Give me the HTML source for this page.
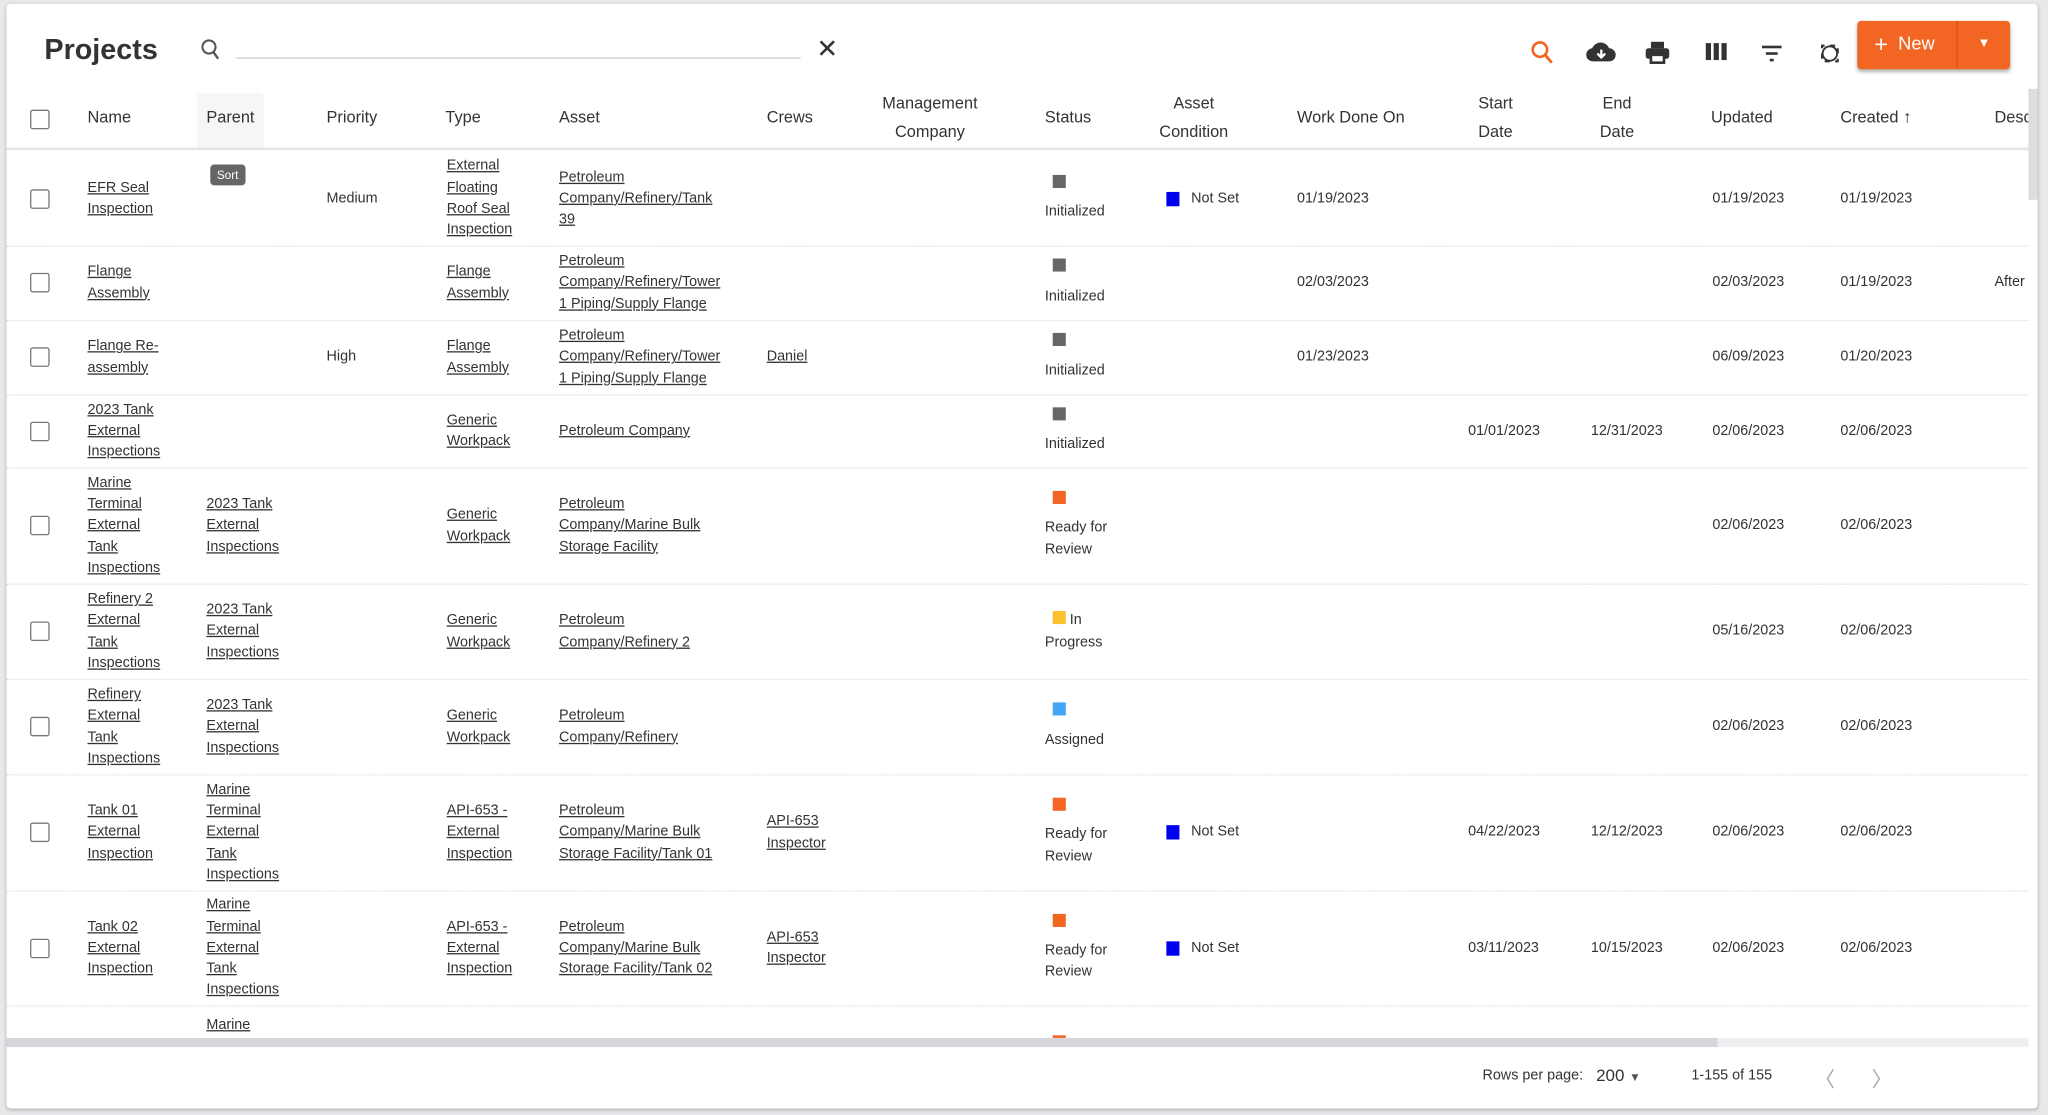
<!DOCTYPE html>
<html><head><meta charset="utf-8"><style>
html,body{margin:0;padding:0;background:#e8e8eb;width:2048px;height:1115px;overflow:hidden}
#w{position:absolute;left:0;top:0;width:1568px;height:854px;transform:scale(1.30612,1.3056);transform-origin:0 0;font-family:"Liberation Sans",sans-serif;color:#333;font-size:11px}
.card{position:absolute;left:5px;top:3px;width:1555px;height:846px;background:#fff;border-radius:3px;box-shadow:0 1px 3px rgba(0,0,0,.25);overflow:hidden}
.a{position:absolute}
.h{position:absolute;font-size:12.5px;color:#333;text-align:center;line-height:22px}
.row{position:absolute;left:0;width:1548px;border-bottom:1px dotted #ddd}
.c{position:absolute;top:0;bottom:0;display:flex;align-items:center;line-height:16.3px;white-space:nowrap}
.c a,.u{color:#333;text-decoration:underline}
.cb{position:absolute;width:13px;height:13px;border:1.5px solid #777;border-radius:2px}
.sq{display:inline-block;width:10px;height:10px;margin-left:6px;margin-bottom:5px}
.st{display:block}
.bl{display:inline-block;width:10px;height:11px;background:#0000f0;margin-right:9px;vertical-align:-2px}
</style></head><body><div id="w">
<div class="card">
<div class="a" style="left:29px;top:22px;font-size:22px;font-weight:bold;color:#333">Projects</div>
<svg class="a" style="left:147px;top:26px" width="20" height="20"><circle cx="8" cy="7" r="5" fill="none" stroke="#555" stroke-width="1.6"/><line x1="11.5" y1="11" x2="15" y2="16" stroke="#555" stroke-width="1.8"/></svg>
<div class="a" style="left:176px;top:41px;width:432px;height:1px;background:#ccc"></div>
<div class="a" style="left:620px;top:22px;font-size:20px;color:#333">✕</div>
<svg class="a" style="left:1166px;top:27px" width="22" height="22"><circle cx="8" cy="8" r="5.5" fill="none" stroke="#f26522" stroke-width="2"/><line x1="12" y1="12" x2="17" y2="18" stroke="#f26522" stroke-width="2.2"/></svg>
<svg class="a" style="left:1209px;top:28px" width="24" height="20"><path d="M6 16 A5 5 0 0 1 5 6 A7 7 0 0 1 18 6 A5 5 0 0 1 18 16 Z" fill="#333"/><path d="M12 7 v6 M9 10 l3 3 l3-3" stroke="#fff" stroke-width="1.8" fill="none"/></svg>
<svg class="a" style="left:1254px;top:27px" width="20" height="20"><rect x="5" y="2" width="10" height="5" fill="#333"/><rect x="1" y="7" width="18" height="8" rx="2" fill="#333"/><rect x="5" y="12" width="10" height="6" fill="#fff" stroke="#333" stroke-width="2"/></svg>
<svg class="a" style="left:1300px;top:29px" width="18" height="16"><rect x="1" y="1" width="4" height="13" fill="#333"/><rect x="7" y="1" width="4" height="13" fill="#333"/><rect x="13" y="1" width="4" height="13" fill="#333"/></svg>
<svg class="a" style="left:1343px;top:30px" width="18" height="16"><rect x="1" y="2" width="15" height="2" fill="#333"/><rect x="4" y="7" width="9" height="2" fill="#333"/><rect x="7" y="12" width="3" height="2" fill="#333"/></svg>
<svg class="a" style="left:1386px;top:27px" width="20" height="22"><path d="M4 5 h12 v12 h-12 Z" fill="none" stroke="#333" stroke-width="1.6" stroke-dasharray="4 4" stroke-dashoffset="2"/><circle cx="10" cy="11" r="5.5" fill="none" stroke="#333" stroke-width="1.4"/></svg>
<div class="a" style="left:1417px;top:13px;width:117px;height:37px;background:#f26522;border-radius:3px;box-shadow:0 2px 3px rgba(0,0,0,.3)"></div>
<div class="a" style="left:1493px;top:13px;width:1px;height:37px;background:#d4541a"></div>
<div class="a" style="left:1430px;top:21px;color:#fff;font-size:14px"><span style="font-size:18px;vertical-align:-2px">+</span>&nbsp; New</div>
<div class="a" style="left:1509px;top:25px;color:#fff;font-size:10px">▼</div>

<!-- header -->
<div class="cb" style="left:18px;top:81px"></div>
<div class="h" style="left:62px;top:76px">Name</div>
<div class="a" style="left:146px;top:68px;width:51px;height:44px;background:#f6f6f6;border-radius:3px"></div>
<div class="h" style="left:153px;top:76px">Parent</div>
<div class="h" style="left:245px;top:76px">Priority</div>
<div class="h" style="left:336px;top:76px">Type</div>
<div class="h" style="left:423px;top:76px">Asset</div>
<div class="h" style="left:582px;top:76px">Crews</div>
<div class="h" style="left:657px;top:65px;width:100px">Management<br>Company</div>
<div class="h" style="left:795px;top:76px">Status</div>
<div class="h" style="left:869px;top:65px;width:80px">Asset<br>Condition</div>
<div class="h" style="left:988px;top:76px">Work Done On</div>
<div class="h" style="left:1110px;top:65px;width:60px">Start<br>Date</div>
<div class="h" style="left:1203px;top:65px;width:60px">End<br>Date</div>
<div class="h" style="left:1305px;top:76px">Updated</div>
<div class="h" style="left:1404px;top:76px">Created <span style="font-size:13px">↑</span></div>
<div class="h" style="left:1522px;top:76px">Desc</div>
<div class="a" style="left:0;top:110px;width:1548px;height:2px;background:#e4e4e4"></div>
<div class="a" style="left:1548px;top:65px;width:7px;height:85px;background:#ddd"></div>

<div class="a" style="left:0;top:113px;width:1548px;height:679px;overflow:hidden">
<!-- row1 -->
<div class="row" style="top:0;height:72px">
<div class="cb" style="left:18px;top:29px"></div>
<div class="c" style="left:62px"><a>EFR Seal<br>Inspection</a></div>
<div class="a" style="left:156px;top:10px;background:#666;color:#fff;font-size:9px;padding:3px 5px;border-radius:3px">Sort</div>
<div class="c" style="left:245px">Medium</div>
<div class="c" style="left:337px"><a>External<br>Floating<br>Roof Seal<br>Inspection</a></div>
<div class="c" style="left:423px"><a>Petroleum<br>Company/Refinery/Tank<br>39</a></div>
<div class="c" style="left:795px"><div><span class="sq" style="background:#666"></span><span class="st">Initialized</span></div></div>
<div class="c" style="left:888px"><span class="bl"></span>Not Set</div>
<div class="c" style="left:988px">01/19/2023</div>
<div class="c" style="left:1306px">01/19/2023</div>
<div class="c" style="left:1404px">01/19/2023</div>
</div>
<!-- row2 -->
<div class="row" style="top:72px;height:57px">
<div class="cb" style="left:18px;top:21px"></div>
<div class="c" style="left:62px"><a>Flange<br>Assembly</a></div>
<div class="c" style="left:337px"><a>Flange<br>Assembly</a></div>
<div class="c" style="left:423px"><a>Petroleum<br>Company/Refinery/Tower<br>1 Piping/Supply Flange</a></div>
<div class="c" style="left:795px"><div><span class="sq" style="background:#666"></span><span class="st">Initialized</span></div></div>
<div class="c" style="left:988px">02/03/2023</div>
<div class="c" style="left:1306px">02/03/2023</div>
<div class="c" style="left:1404px">01/19/2023</div>
<div class="c" style="left:1522px">After</div>
</div>
<!-- row3 -->
<div class="row" style="top:129px;height:57px">
<div class="cb" style="left:18px;top:21px"></div>
<div class="c" style="left:62px"><a>Flange Re-<br>assembly</a></div>
<div class="c" style="left:245px">High</div>
<div class="c" style="left:337px"><a>Flange<br>Assembly</a></div>
<div class="c" style="left:423px"><a>Petroleum<br>Company/Refinery/Tower<br>1 Piping/Supply Flange</a></div>
<div class="c" style="left:582px"><a>Daniel</a></div>
<div class="c" style="left:795px"><div><span class="sq" style="background:#666"></span><span class="st">Initialized</span></div></div>
<div class="c" style="left:988px">01/23/2023</div>
<div class="c" style="left:1306px">06/09/2023</div>
<div class="c" style="left:1404px">01/20/2023</div>
</div>
<!-- row4 -->
<div class="row" style="top:186px;height:56px">
<div class="cb" style="left:18px;top:21px"></div>
<div class="c" style="left:62px"><a>2023 Tank<br>External<br>Inspections</a></div>
<div class="c" style="left:337px"><a>Generic<br>Workpack</a></div>
<div class="c" style="left:423px"><a>Petroleum Company</a></div>
<div class="c" style="left:795px"><div><span class="sq" style="background:#666"></span><span class="st">Initialized</span></div></div>
<div class="c" style="left:1119px">01/01/2023</div>
<div class="c" style="left:1213px">12/31/2023</div>
<div class="c" style="left:1306px">02/06/2023</div>
<div class="c" style="left:1404px">02/06/2023</div>
</div>
<!-- row5 -->
<div class="row" style="top:242px;height:89px">
<div class="cb" style="left:18px;top:37px"></div>
<div class="c" style="left:62px"><a>Marine<br>Terminal<br>External<br>Tank<br>Inspections</a></div>
<div class="c" style="left:153px"><a>2023 Tank<br>External<br>Inspections</a></div>
<div class="c" style="left:337px"><a>Generic<br>Workpack</a></div>
<div class="c" style="left:423px"><a>Petroleum<br>Company/Marine Bulk<br>Storage Facility</a></div>
<div class="c" style="left:795px"><div><span class="sq" style="background:#f26522"></span><span class="st">Ready for<br>Review</span></div></div>
<div class="c" style="left:1306px">02/06/2023</div>
<div class="c" style="left:1404px">02/06/2023</div>
</div>
<!-- row6 -->
<div class="row" style="top:331px;height:73px">
<div class="cb" style="left:18px;top:29px"></div>
<div class="c" style="left:62px"><a>Refinery 2<br>External<br>Tank<br>Inspections</a></div>
<div class="c" style="left:153px"><a>2023 Tank<br>External<br>Inspections</a></div>
<div class="c" style="left:337px"><a>Generic<br>Workpack</a></div>
<div class="c" style="left:423px"><a>Petroleum<br>Company/Refinery 2</a></div>
<div class="c" style="left:795px"><div><span class="sq" style="background:#fbc02d;margin-bottom:0"></span> In<span class="st">Progress</span></div></div>
<div class="c" style="left:1306px">05/16/2023</div>
<div class="c" style="left:1404px">02/06/2023</div>
</div>
<!-- row7 -->
<div class="row" style="top:404px;height:73px">
<div class="cb" style="left:18px;top:29px"></div>
<div class="c" style="left:62px"><a>Refinery<br>External<br>Tank<br>Inspections</a></div>
<div class="c" style="left:153px"><a>2023 Tank<br>External<br>Inspections</a></div>
<div class="c" style="left:337px"><a>Generic<br>Workpack</a></div>
<div class="c" style="left:423px"><a>Petroleum<br>Company/Refinery</a></div>
<div class="c" style="left:795px"><div><span class="sq" style="background:#42a5f5"></span><span class="st">Assigned</span></div></div>
<div class="c" style="left:1306px">02/06/2023</div>
<div class="c" style="left:1404px">02/06/2023</div>
</div>
<!-- row8 -->
<div class="row" style="top:477px;height:89px">
<div class="cb" style="left:18px;top:37px"></div>
<div class="c" style="left:62px"><a>Tank 01<br>External<br>Inspection</a></div>
<div class="c" style="left:153px"><a>Marine<br>Terminal<br>External<br>Tank<br>Inspections</a></div>
<div class="c" style="left:337px"><a>API-653 -<br>External<br>Inspection</a></div>
<div class="c" style="left:423px"><a>Petroleum<br>Company/Marine Bulk<br>Storage Facility/Tank 01</a></div>
<div class="c" style="left:582px"><a>API-653<br>Inspector</a></div>
<div class="c" style="left:795px"><div><span class="sq" style="background:#f26522"></span><span class="st">Ready for<br>Review</span></div></div>
<div class="c" style="left:888px"><span class="bl"></span>Not Set</div>
<div class="c" style="left:1119px">04/22/2023</div>
<div class="c" style="left:1213px">12/12/2023</div>
<div class="c" style="left:1306px">02/06/2023</div>
<div class="c" style="left:1404px">02/06/2023</div>
</div>
<!-- row9 -->
<div class="row" style="top:566px;height:88px">
<div class="cb" style="left:18px;top:37px"></div>
<div class="c" style="left:62px"><a>Tank 02<br>External<br>Inspection</a></div>
<div class="c" style="left:153px"><a>Marine<br>Terminal<br>External<br>Tank<br>Inspections</a></div>
<div class="c" style="left:337px"><a>API-653 -<br>External<br>Inspection</a></div>
<div class="c" style="left:423px"><a>Petroleum<br>Company/Marine Bulk<br>Storage Facility/Tank 02</a></div>
<div class="c" style="left:582px"><a>API-653<br>Inspector</a></div>
<div class="c" style="left:795px"><div><span class="sq" style="background:#f26522"></span><span class="st">Ready for<br>Review</span></div></div>
<div class="c" style="left:888px"><span class="bl"></span>Not Set</div>
<div class="c" style="left:1119px">03/11/2023</div>
<div class="c" style="left:1213px">10/15/2023</div>
<div class="c" style="left:1306px">02/06/2023</div>
<div class="c" style="left:1404px">02/06/2023</div>
</div>
<div class="a" style="left:153px;top:661px;line-height:16px"><a class="u">Marine</a></div>
<div class="a" style="left:801px;top:677px;width:10px;height:3px;background:#f26522"></div>
</div>
<!-- h scrollbar -->
<div class="a" style="left:0;top:792px;width:1548px;height:7px;background:#efeff2"></div>
<div class="a" style="left:0;top:792px;width:1310px;height:7px;background:#d5d6da"></div>
<!-- footer -->
<div class="a" style="left:1130px;top:815px;font-size:11px">Rows per page:</div>
<div class="a" style="left:1217px;top:813px;font-size:13px">200 <span style="font-size:9px;color:#555">▼</span></div>
<div class="a" style="left:1290px;top:815px;font-size:11px">1-155 of 155</div>
<div class="a" style="left:1384px;top:810px;font-size:16px;color:#aaa">〈</div>
<div class="a" style="left:1428px;top:810px;font-size:16px;color:#aaa">〉</div>
</div>
</div></body></html>
